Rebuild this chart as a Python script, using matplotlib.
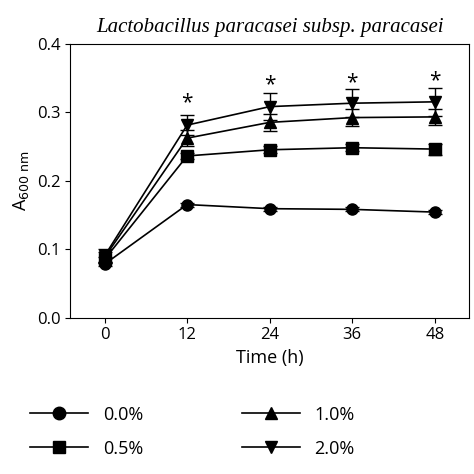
import matplotlib
matplotlib.use('Agg')
import matplotlib.pyplot as plt
from matplotlib.lines import Line2D

plt.rcParams['font.family'] = 'Open Sans'

time_h = [0, 12, 24, 36, 48]
labels = ['0.0%', '0.5%', '1.0%', '2.0%']
markers = ['o', 's', '^', 'v']
values = [
    [0.078, 0.165, 0.159, 0.158, 0.154],
    [0.085, 0.236, 0.245, 0.248, 0.246],
    [0.088, 0.262, 0.285, 0.292, 0.293],
    [0.090, 0.281, 0.308, 0.313, 0.315],
]
errors = [
    [0.003, 0.003, 0.003, 0.003, 0.003],
    [0.004, 0.005, 0.005, 0.005, 0.008],
    [0.008, 0.012, 0.012, 0.012, 0.012],
    [0.010, 0.015, 0.020, 0.020, 0.020],
]
star_times = [12, 24, 36, 48]
star_y = [0.313, 0.34, 0.343, 0.346]

fig = plt.figure(figsize=(4.74, 4.74), dpi=100)
ax = fig.add_axes([0.148, 0.33, 0.842, 0.578])
handles = []
for lab, mk, v, e in zip(labels, markers, values, errors):
    ax.errorbar(time_h, v, yerr=e, color='black', marker=mk, markersize=8,
                linewidth=1.2, capsize=5, elinewidth=1)
    handles.append(Line2D([], [], color='black', marker=mk, markersize=9,
                          linewidth=1.2, label=lab))
for t, y in zip(star_times, star_y):
    ax.text(t, y, '*', ha='center', va='center', fontsize=15)

ax.set_xlim(-5, 53)
ax.set_ylim(0, 0.4)
ax.set_xticks(time_h)
ax.set_yticks([0.0, 0.1, 0.2, 0.3, 0.4])
ax.tick_params(labelsize=12, direction='out')
ax.set_xlabel('Time (h)', fontsize=13)
ax.set_ylabel('A$_{600\\ \\mathrm{nm}}$', fontsize=13)
ax.set_title('Lactobacillus paracasei subsp. paracasei', fontsize=15,
             style='italic', family='Liberation Serif', pad=8)
fig.legend(handles=handles, loc='lower left', bbox_to_anchor=(0.03, 0.0), ncol=2,
           frameon=False, fontsize=13, columnspacing=5.5, handlelength=3.2,
           labelspacing=0.9)
fig.savefig('out.png', dpi=100)
